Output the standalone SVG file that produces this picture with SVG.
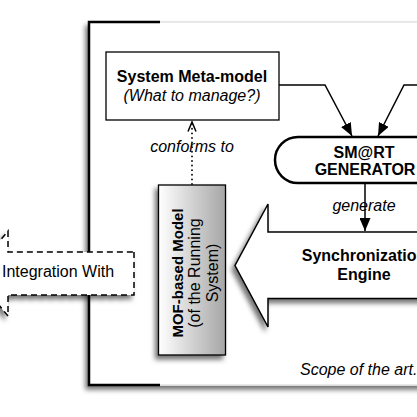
<svg xmlns="http://www.w3.org/2000/svg" width="417" height="417" viewBox="0 0 417 417">
<defs>
<style>
text{font-family:"Liberation Sans",Arial,sans-serif;font-size:16px;fill:#000}
.b{font-weight:bold}
.i{font-style:italic}
.m{text-anchor:middle}
.ln{fill:none;stroke:#000;stroke-width:1.5}
</style>
<filter id="sh" x="-20%" y="-20%" width="140%" height="140%">
<feDropShadow dx="-3" dy="4" stdDeviation="2.5" flood-color="#000" flood-opacity="0.55"/>
</filter>
<linearGradient id="gr" x1="0" y1="0" x2="1" y2="0">
<stop offset="0" stop-color="#ffffff"/>
<stop offset="1" stop-color="#a6a6a6"/>
</linearGradient>
<marker id="ah" markerUnits="userSpaceOnUse" markerWidth="13" markerHeight="11" refX="13" refY="5.5" orient="auto">
<path d="M0,0 L13,5.5 L0,11 Z" fill="#000"/>
</marker>
</defs>
<rect width="417" height="417" fill="#fff"/>

<g id="frame">
<rect x="89" y="22" width="400" height="363" fill="#fff" stroke="#e2e2e2" stroke-width="1.5" filter="url(#sh)"/>
<path d="M160,22 H89 V385 H160" fill="none" stroke="#000" stroke-width="2.5"/>
<text class="i" x="300" y="375">Scope of the art.</text>
</g>

<g id="integration">
<path d="M134,252 V295 H8 V316 L-27,273.5 L8,231 V252 Z" fill="#fff" stroke="#000" stroke-width="1.5" stroke-dasharray="6 4" filter="url(#sh)"/>
<text x="2" y="277">Integration With</text>
</g>

<g id="meta-model">
<rect x="106" y="52" width="173" height="68" fill="#fff" stroke="#000" stroke-width="1.3"/>
<text class="b m" x="192" y="81.5">System Meta-model</text>
<text class="i m" x="192" y="100.5">(What to manage?)</text>
</g>

<g id="generator">
<path d="M430,137 H298 A23,23 0 0 0 298,183 H430" fill="#fff" stroke="#000" stroke-width="2.5"/>
<text class="b m" x="364" y="157.5">SM@RT</text>
<text class="b m" x="365" y="175">GENERATOR</text>
</g>

<g id="sync-engine">
<path d="M430,232 H268 V204 L235,265.5 L268,327 V298.5 H430" fill="#fff" stroke="#000" stroke-width="1.5" filter="url(#sh)"/>
<text class="b m" x="364" y="261">Synchronization</text>
<text class="b m" x="364" y="280">Engine</text>
</g>

<g id="mof-model">
<rect x="158.5" y="185" width="67" height="170" fill="url(#gr)" stroke="#000" stroke-width="1.3" filter="url(#sh)"/>
<text class="b m" style="font-size:15px" transform="translate(183,273) rotate(-90)">MOF-based Model</text>
<text class="m" transform="translate(200,273) rotate(-90)">(of the Running</text>
<text class="m" transform="translate(218,273) rotate(-90)">System)</text>
</g>

<g id="connectors">
<polyline class="ln" points="279,85 325,85 352,136" marker-end="url(#ah)"/>
<polyline class="ln" points="417,85 404,85 378,136" marker-end="url(#ah)"/>
<line class="ln" x1="365" y1="183" x2="365" y2="231" marker-end="url(#ah)"/>
<line x1="192" y1="184" x2="192" y2="124" stroke="#000" stroke-width="1.8" stroke-dasharray="0.1 4.5" stroke-linecap="round"/>
<polyline class="ln" points="188,131.5 192,122 196,131.5"/>
<text class="i m" x="192" y="152">conforms to</text>
<text class="i m" x="364" y="211">generate</text>
</g>
</svg>
